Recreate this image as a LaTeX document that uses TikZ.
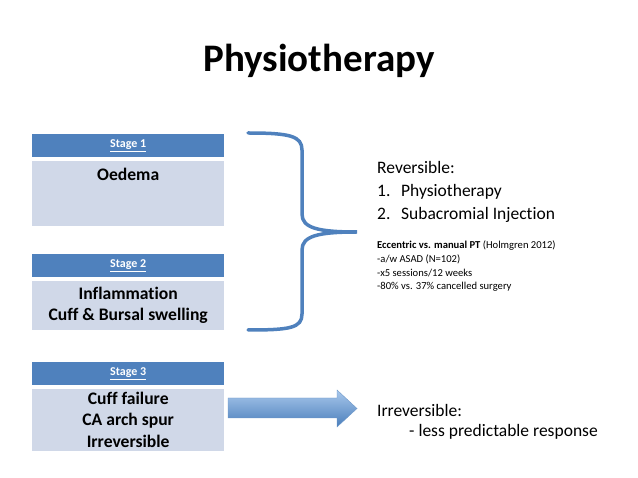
\documentclass[tikz,border=0pt]{standalone}
\usepackage{fontspec}
\setmainfont{Carlito}[RawFeature=-liga]
\usetikzlibrary{positioning}
\definecolor{headblue}{HTML}{4F81BD}
\definecolor{bodybg}{HTML}{D0D8E8}
\definecolor{arrowtop}{HTML}{A9C8EC}
\definecolor{arrowbot}{HTML}{4A7EBB}

\begin{document}
\begin{tikzpicture}[x=1pt,y=-1pt,
      hd/.style={fill=headblue,text=white,font=\fontsize{12}{14}\selectfont\bfseries,minimum width=192pt,minimum height=23pt,inner sep=0pt,anchor=north west},
      bd/.style={fill=bodybg,font=\fontsize{17.6}{21.5}\selectfont\bfseries,minimum width=192pt,inner sep=0pt,align=center,below=3pt of #1},
      txt/.style={anchor=west,inner sep=0pt,align=left}]
    \useasboundingbox (0,0) rectangle (638,478);
    \node[font=\fontsize{39}{44}\selectfont\bfseries] (title) at (319,61) {Physiotherapy};
    % stages
    \node[hd] (h1) at (32,134) {\underline{Stage 1}};
    \node[bd=h1,minimum height=65pt,anchor=north] (s1) {};
    \node[anchor=north,font=\fontsize{17.6}{21.5}\selectfont\bfseries] (t1) at ([yshift=-4pt]s1.north) {Oedema};
    \node[hd] (h2) at (32,254) {\underline{Stage 2}};
    \node[bd=h2,minimum height=49pt] (s2) {Inflammation\\Cuff \& Bursal swelling};
    \node[hd] (h3) at (32,362) {\underline{Stage 3}};
    \node[bd=h3,minimum height=62pt] (s3) {Cuff failure\\CA arch spur\\Irreversible};
    % brace
    \draw[headblue,line width=3.5pt,line cap=round]
      (248,133) .. controls (290,133) and (302,136) .. (302,150) -- (302,214)
      .. controls (302,228) and (318,232) .. (357,232)
      .. controls (318,232) and (302,236) .. (302,250) -- (302,314)
      .. controls (302,328) and (290,330) .. (248,330);
    % arrow
    \shade[top color=arrowtop,bottom color=arrowbot,draw=arrowbot!80,line width=0.4pt]
      (228,398) -- (337,398) -- (337,390) -- (357,408.5) -- (337,427) -- (337,418) -- (228,418) -- cycle;
    % right hand texts
    \node[txt,font=\fontsize{17.5}{23}\selectfont,anchor=north west] (rev) at (377,161)
      {Reversible:\\\makebox[24pt][l]{1.}Physiotherapy\\\makebox[24pt][l]{2.}Subacromial Injection};
    \node[txt,font=\fontsize{10.6}{13.8}\selectfont,anchor=north west] (pt) at (377,240.5)
      {\textbf{Eccentric vs. manual PT} (Holmgren 2012)\\-a/w ASAD (N=102)\\-x5 sessions/12 weeks\\-80\% vs. 37\% cancelled surgery};
    \node[txt,font=\fontsize{17.5}{23}\selectfont] (irr) at (377,410) {Irreversible:};
    \node[txt,font=\fontsize{17.5}{23}\selectfont] (resp) at (409,432) {- less predictable response};
  \end{tikzpicture}
\end{document}
